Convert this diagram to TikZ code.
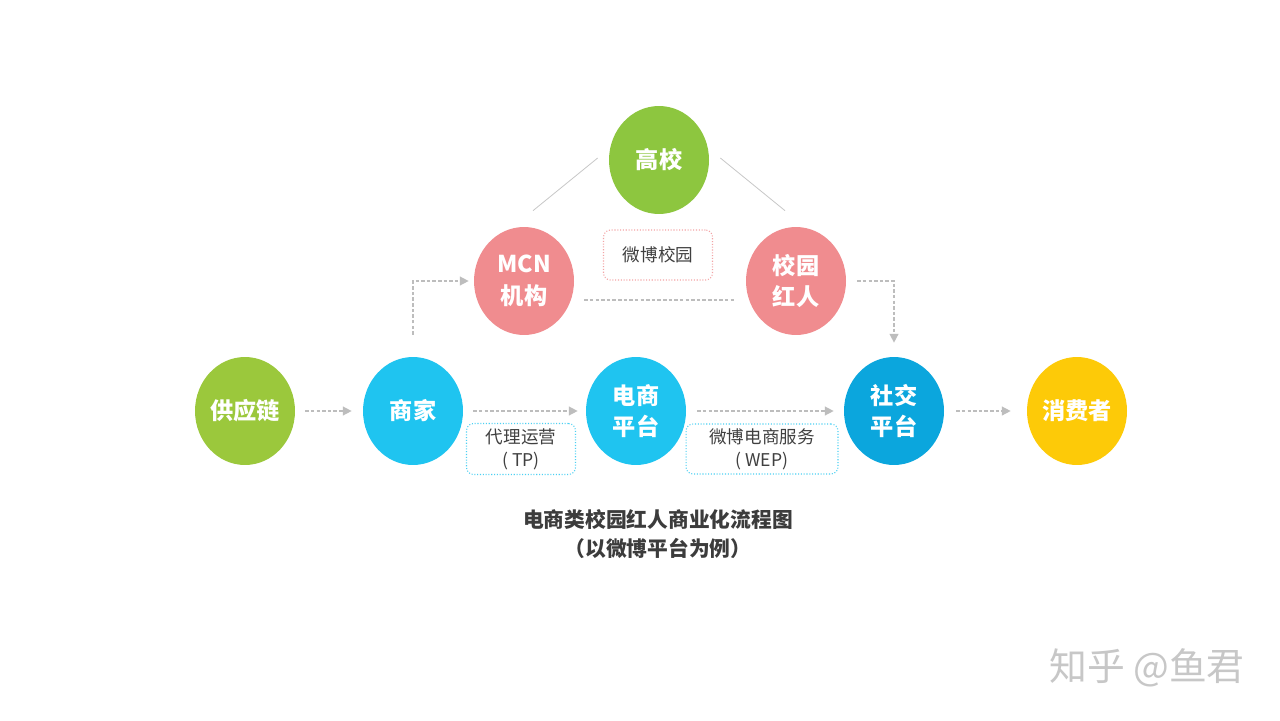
\documentclass[tikz,border=0pt]{standalone}
\usepackage{fontspec}
\usepackage{tikz}
\usetikzlibrary{shapes.geometric,arrows.meta,calc}
\newfontfamily\cjk{Noto Sans CJK SC}
\definecolor{supplyGreen}{HTML}{9BC83C}
\definecolor{schoolGreen}{HTML}{8DC63F}
\definecolor{shopCyan}{HTML}{1FC4F0}
\definecolor{socialBlue}{HTML}{0BA6DD}
\definecolor{buyerYellow}{HTML}{FDCA08}
\definecolor{kolPink}{HTML}{F08C8F}
\definecolor{flowGray}{HTML}{BDBDBD}
\definecolor{titleGray}{HTML}{3C3C3C}

\tikzset{
  bubble/.style={ellipse,minimum width=2cm,minimum height=2.16cm,inner sep=0pt,
    text=white,font=\cjk\bfseries\fontsize{13.2}{18}\selectfont,align=center},
  tag/.style={rounded corners=4pt,densely dotted,line width=0.6pt,fill=white,
    font=\cjk\fontsize{10}{13}\selectfont,text=black!75,align=center,inner sep=0pt},
  flow/.style={flowGray,line width=0.8pt,dash pattern=on 2pt off 1.2pt,
    -{Triangle[length=5pt,width=5pt]}},
  link/.style={black!22,line width=0.45pt}
}

\begin{document}
\begin{tikzpicture}[x=0.02cm,y=-0.02cm]

  \useasboundingbox[fill=white] (0,0) rectangle (1280,720);

  % the bubbles
  \node[bubble,fill=supplyGreen] (supply) at (245,411) {供应链};
  \node[bubble,fill=shopCyan] (shop) at (413,411) {商家};
  \node[bubble,fill=shopCyan] (mall) at (636,411) {电商\\平台};
  \node[bubble,fill=socialBlue] (social) at (894,411) {社交\\平台};
  \node[bubble,fill=buyerYellow] (buyer) at (1077,411) {消费者};
  \node[bubble,fill=schoolGreen] (school) at (659,160) {高校};
  \node[bubble,fill=kolPink] (mcn) at (524,281) {MCN\\机构};
  \node[bubble,fill=kolPink] (kol) at (796,281) {校园\\红人};

  % the tags
  \node[tag,draw=kolPink!80,minimum width=2.18cm,minimum height=1cm] (campus) at (658,255) {微博校园};
  \node[tag,draw=shopCyan!80,minimum width=2.18cm,minimum height=1.02cm] (tp) at (521,449) {代理运营\\( TP)};
  \node[tag,draw=shopCyan!80,minimum width=3.04cm,minimum height=1cm] (wep) at (762,449) {微博电商服务\\( WEP)};

  % the main flow
  \draw[flow,shorten <=0.2cm,shorten >=0.22cm] (supply) -- (shop);
  \draw[flow,shorten <=0.2cm,shorten >=0.16cm] (shop) -- (mall);
  \draw[flow,shorten <=0.22cm,shorten >=0.2cm] (mall) -- (social);
  \draw[flow,shorten <=0.24cm,shorten >=0.32cm] (social) -- (buyer);

  % the branches
  \draw[flow,shorten <=0.44cm,shorten >=0.1cm] (shop) |- (mcn);
  \draw[flow,shorten <=0.22cm,shorten >=0.28cm] (kol) -| (social);
  \draw[flowGray,line width=0.8pt,dash pattern=on 2pt off 1.2pt]
    ([shift={(0.2cm,-0.38cm)}]mcn.east) -- ([shift={(-0.2cm,-0.38cm)}]kol.west);
  \draw[link] ([shift={(0.18cm,0.32cm)}]mcn.north) -- ([shift={(-0.22cm,0.04cm)}]school.west);
  \draw[link] ([shift={(0.22cm,0.04cm)}]school.east) -- ([shift={(-0.22cm,0.32cm)}]kol.north);

  % title and mark
  \node[font=\cjk\bfseries\fontsize{11.8}{16}\selectfont,text=titleGray,align=center] (title) at (658,534)
    {电商类校园红人商业化流程图\\（以微博平台为例）};
  \node[font=\cjk\fontsize{21.5}{24}\selectfont,text=black!22] (mark) at (1147,668) {知乎 @鱼君};

\end{tikzpicture}
\end{document}
